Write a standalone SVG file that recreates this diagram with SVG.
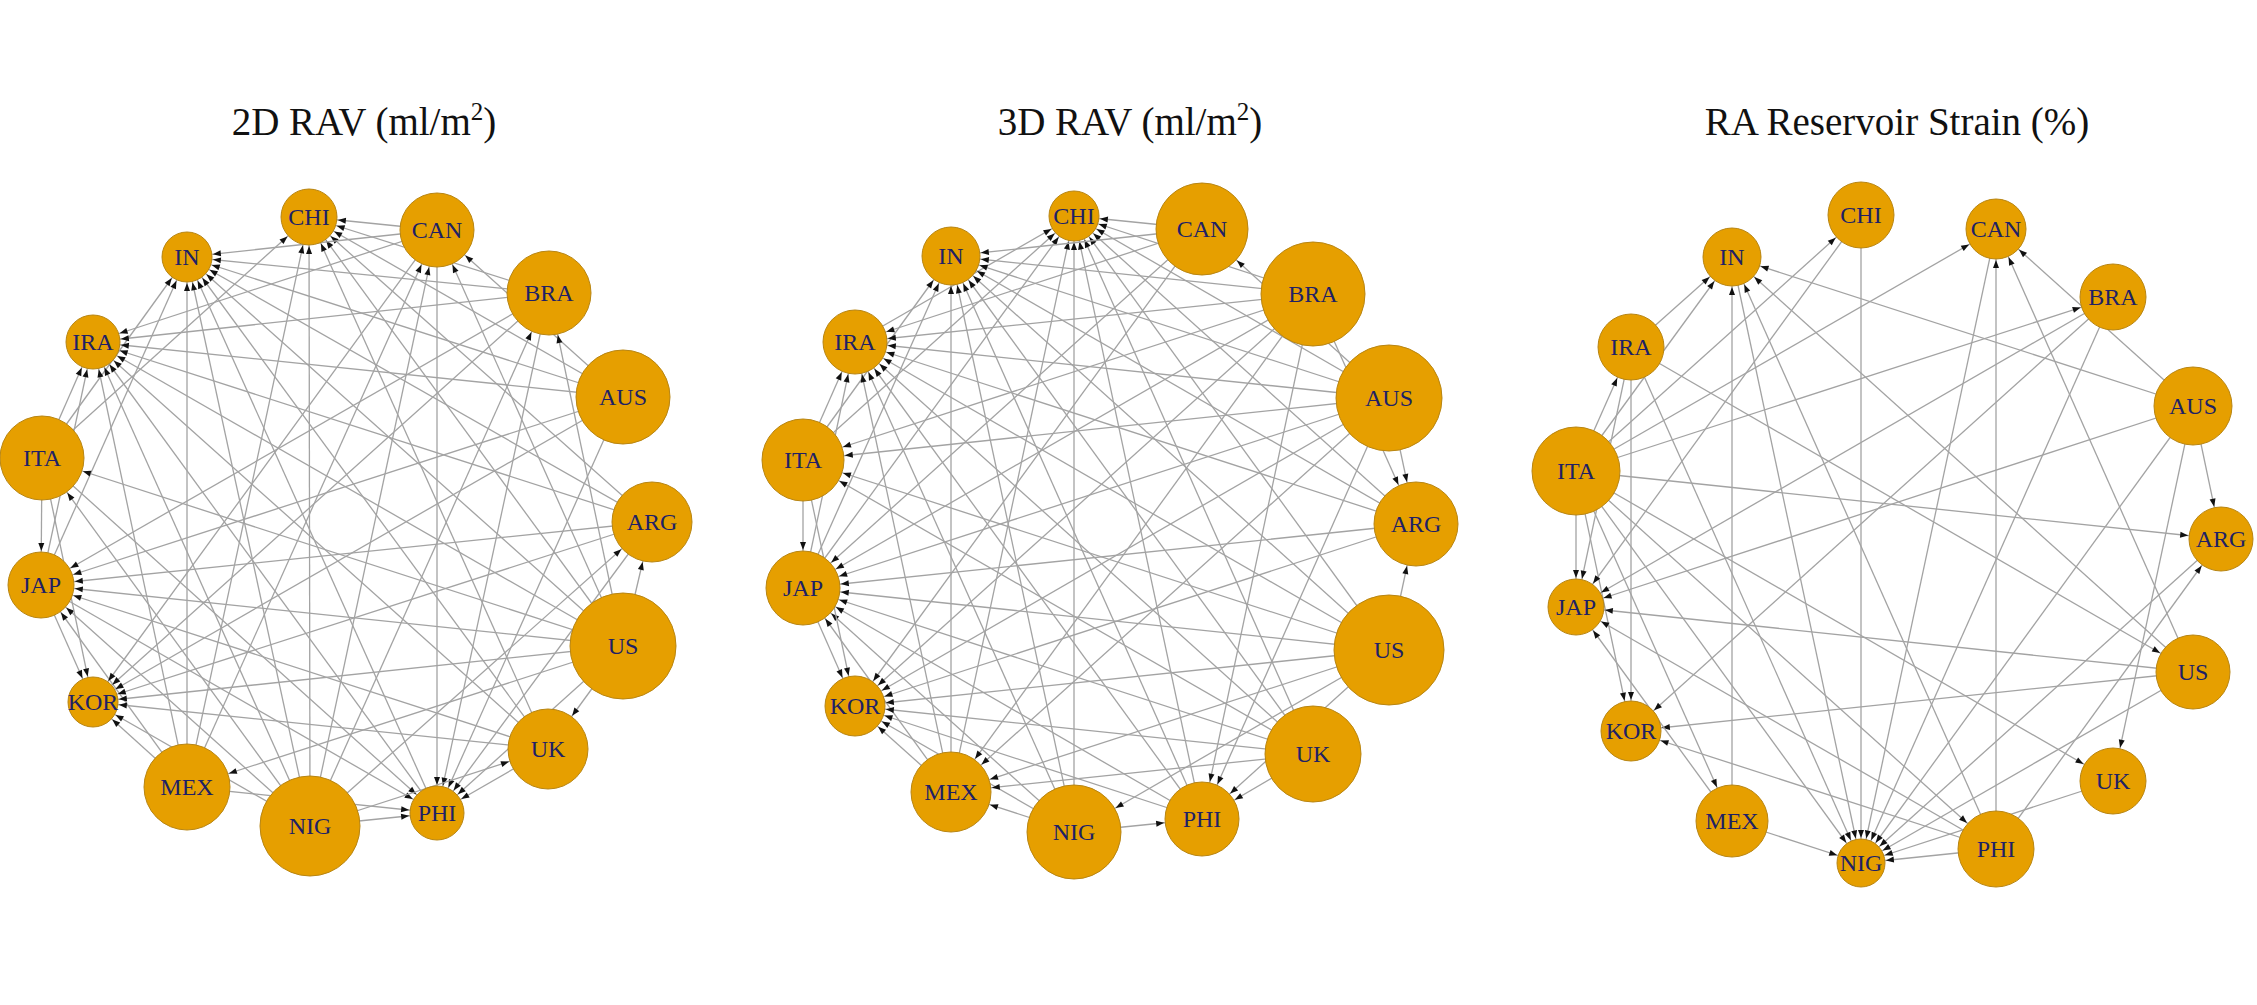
<svg xmlns="http://www.w3.org/2000/svg" width="2257" height="1005" viewBox="0 0 2257 1005">
<defs>
<style>
.bg{fill:#ffffff}
.t{font-family:"Liberation Serif","Times New Roman",serif;font-size:39px;fill:#111111;text-anchor:middle}
.n circle{fill:#E69F00;stroke:#b88512;stroke-width:1}
.n text{font-family:"Liberation Serif","Times New Roman",serif;font-size:24px;fill:#201f66;text-anchor:middle}
.edges line{stroke:#a3a3a3;stroke-width:1.3;fill:none}
.k24{marker-end:url(#r24)}.k25{marker-end:url(#r25)}.k27{marker-end:url(#r27)}.k28{marker-end:url(#r28)}
.k29{marker-end:url(#r29)}.k30{marker-end:url(#r30)}.k32{marker-end:url(#r32)}.k33{marker-end:url(#r33)}
.k36{marker-end:url(#r36)}.k37{marker-end:url(#r37)}.k38{marker-end:url(#r38)}.k40{marker-end:url(#r40)}
.k41{marker-end:url(#r41)}.k42{marker-end:url(#r42)}.k43{marker-end:url(#r43)}.k46{marker-end:url(#r46)}
.k47{marker-end:url(#r47)}
.ah{fill:#111111}
</style>
<marker id="r24" markerUnits="userSpaceOnUse" orient="auto" overflow="visible" markerWidth="1" markerHeight="1"><path class="ah" d="M-25,0 L-33,-3 L-33,3 Z"/></marker>
<marker id="r25" markerUnits="userSpaceOnUse" orient="auto" overflow="visible" markerWidth="1" markerHeight="1"><path class="ah" d="M-26,0 L-34,-3 L-34,3 Z"/></marker>
<marker id="r27" markerUnits="userSpaceOnUse" orient="auto" overflow="visible" markerWidth="1" markerHeight="1"><path class="ah" d="M-28,0 L-36,-3 L-36,3 Z"/></marker>
<marker id="r28" markerUnits="userSpaceOnUse" orient="auto" overflow="visible" markerWidth="1" markerHeight="1"><path class="ah" d="M-29,0 L-37,-3 L-37,3 Z"/></marker>
<marker id="r29" markerUnits="userSpaceOnUse" orient="auto" overflow="visible" markerWidth="1" markerHeight="1"><path class="ah" d="M-30,0 L-38,-3 L-38,3 Z"/></marker>
<marker id="r30" markerUnits="userSpaceOnUse" orient="auto" overflow="visible" markerWidth="1" markerHeight="1"><path class="ah" d="M-31,0 L-39,-3 L-39,3 Z"/></marker>
<marker id="r32" markerUnits="userSpaceOnUse" orient="auto" overflow="visible" markerWidth="1" markerHeight="1"><path class="ah" d="M-33,0 L-41,-3 L-41,3 Z"/></marker>
<marker id="r33" markerUnits="userSpaceOnUse" orient="auto" overflow="visible" markerWidth="1" markerHeight="1"><path class="ah" d="M-34,0 L-42,-3 L-42,3 Z"/></marker>
<marker id="r36" markerUnits="userSpaceOnUse" orient="auto" overflow="visible" markerWidth="1" markerHeight="1"><path class="ah" d="M-37,0 L-45,-3 L-45,3 Z"/></marker>
<marker id="r37" markerUnits="userSpaceOnUse" orient="auto" overflow="visible" markerWidth="1" markerHeight="1"><path class="ah" d="M-38,0 L-46,-3 L-46,3 Z"/></marker>
<marker id="r38" markerUnits="userSpaceOnUse" orient="auto" overflow="visible" markerWidth="1" markerHeight="1"><path class="ah" d="M-39,0 L-47,-3 L-47,3 Z"/></marker>
<marker id="r40" markerUnits="userSpaceOnUse" orient="auto" overflow="visible" markerWidth="1" markerHeight="1"><path class="ah" d="M-41,0 L-49,-3 L-49,3 Z"/></marker>
<marker id="r41" markerUnits="userSpaceOnUse" orient="auto" overflow="visible" markerWidth="1" markerHeight="1"><path class="ah" d="M-42,0 L-50,-3 L-50,3 Z"/></marker>
<marker id="r42" markerUnits="userSpaceOnUse" orient="auto" overflow="visible" markerWidth="1" markerHeight="1"><path class="ah" d="M-43,0 L-51,-3 L-51,3 Z"/></marker>
<marker id="r43" markerUnits="userSpaceOnUse" orient="auto" overflow="visible" markerWidth="1" markerHeight="1"><path class="ah" d="M-44,0 L-52,-3 L-52,3 Z"/></marker>
<marker id="r46" markerUnits="userSpaceOnUse" orient="auto" overflow="visible" markerWidth="1" markerHeight="1"><path class="ah" d="M-47,0 L-55,-3 L-55,3 Z"/></marker>
<marker id="r47" markerUnits="userSpaceOnUse" orient="auto" overflow="visible" markerWidth="1" markerHeight="1"><path class="ah" d="M-48,0 L-56,-3 L-56,3 Z"/></marker>
</defs>
<rect class="bg" x="0" y="0" width="2257" height="1005"/>

<text class="t" x="364" y="135">2D RAV (ml/m<tspan dy="-15" font-size="25">2</tspan><tspan dy="15">)</tspan></text>
<text class="t" x="1130" y="135">3D RAV (ml/m<tspan dy="-15" font-size="25">2</tspan><tspan dy="15">)</tspan></text>
<text class="t" x="1897" y="135">RA Reservoir Strain (%)</text>

<g id="edges-2d" class="edges">
<line class="k28" x1="437" y1="230" x2="309" y2="217"/>
<line class="k28" x1="549" y1="293" x2="309" y2="217"/>
<line class="k28" x1="623" y1="397" x2="309" y2="217"/>
<line class="k28" x1="652" y1="522" x2="309" y2="217"/>
<line class="k28" x1="623" y1="646" x2="309" y2="217"/>
<line class="k28" x1="548" y1="749" x2="309" y2="217"/>
<line class="k28" x1="310" y1="826" x2="309" y2="217"/>
<line class="k28" x1="187" y1="787" x2="309" y2="217"/>
<line class="k28" x1="42" y1="458" x2="309" y2="217"/>
<line class="k25" x1="437" y1="230" x2="187" y2="257"/>
<line class="k25" x1="549" y1="293" x2="187" y2="257"/>
<line class="k25" x1="623" y1="397" x2="187" y2="257"/>
<line class="k25" x1="652" y1="522" x2="187" y2="257"/>
<line class="k25" x1="623" y1="646" x2="187" y2="257"/>
<line class="k25" x1="548" y1="749" x2="187" y2="257"/>
<line class="k25" x1="437" y1="813" x2="187" y2="257"/>
<line class="k25" x1="310" y1="826" x2="187" y2="257"/>
<line class="k25" x1="187" y1="787" x2="187" y2="257"/>
<line class="k25" x1="41" y1="585" x2="187" y2="257"/>
<line class="k25" x1="42" y1="458" x2="187" y2="257"/>
<line class="k27" x1="437" y1="230" x2="93" y2="342"/>
<line class="k27" x1="549" y1="293" x2="93" y2="342"/>
<line class="k27" x1="623" y1="397" x2="93" y2="342"/>
<line class="k27" x1="652" y1="522" x2="93" y2="342"/>
<line class="k27" x1="623" y1="646" x2="93" y2="342"/>
<line class="k27" x1="548" y1="749" x2="93" y2="342"/>
<line class="k27" x1="437" y1="813" x2="93" y2="342"/>
<line class="k27" x1="310" y1="826" x2="93" y2="342"/>
<line class="k27" x1="187" y1="787" x2="93" y2="342"/>
<line class="k27" x1="41" y1="585" x2="93" y2="342"/>
<line class="k27" x1="42" y1="458" x2="93" y2="342"/>
<line class="k42" x1="623" y1="646" x2="42" y2="458"/>
<line class="k42" x1="310" y1="826" x2="42" y2="458"/>
<line class="k33" x1="42" y1="458" x2="41" y2="585"/>
<line class="k33" x1="549" y1="293" x2="41" y2="585"/>
<line class="k33" x1="623" y1="397" x2="41" y2="585"/>
<line class="k33" x1="652" y1="522" x2="41" y2="585"/>
<line class="k33" x1="623" y1="646" x2="41" y2="585"/>
<line class="k33" x1="548" y1="749" x2="41" y2="585"/>
<line class="k33" x1="310" y1="826" x2="41" y2="585"/>
<line class="k33" x1="187" y1="787" x2="41" y2="585"/>
<line class="k25" x1="41" y1="585" x2="93" y2="702"/>
<line class="k25" x1="42" y1="458" x2="93" y2="702"/>
<line class="k25" x1="437" y1="230" x2="93" y2="702"/>
<line class="k25" x1="549" y1="293" x2="93" y2="702"/>
<line class="k25" x1="623" y1="397" x2="93" y2="702"/>
<line class="k25" x1="652" y1="522" x2="93" y2="702"/>
<line class="k25" x1="623" y1="646" x2="93" y2="702"/>
<line class="k25" x1="548" y1="749" x2="93" y2="702"/>
<line class="k25" x1="310" y1="826" x2="93" y2="702"/>
<line class="k25" x1="187" y1="787" x2="93" y2="702"/>
<line class="k27" x1="437" y1="230" x2="437" y2="813"/>
<line class="k27" x1="549" y1="293" x2="437" y2="813"/>
<line class="k27" x1="623" y1="397" x2="437" y2="813"/>
<line class="k27" x1="652" y1="522" x2="437" y2="813"/>
<line class="k27" x1="623" y1="646" x2="437" y2="813"/>
<line class="k27" x1="548" y1="749" x2="437" y2="813"/>
<line class="k27" x1="42" y1="458" x2="437" y2="813"/>
<line class="k27" x1="41" y1="585" x2="437" y2="813"/>
<line class="k27" x1="187" y1="787" x2="437" y2="813"/>
<line class="k27" x1="310" y1="826" x2="437" y2="813"/>
<line class="k37" x1="623" y1="397" x2="437" y2="230"/>
<line class="k37" x1="623" y1="646" x2="437" y2="230"/>
<line class="k37" x1="310" y1="826" x2="437" y2="230"/>
<line class="k37" x1="187" y1="787" x2="437" y2="230"/>
<line class="k42" x1="623" y1="646" x2="549" y2="293"/>
<line class="k42" x1="310" y1="826" x2="549" y2="293"/>
<line class="k40" x1="623" y1="646" x2="652" y2="522"/>
<line class="k40" x1="310" y1="826" x2="652" y2="522"/>
<line class="k40" x1="623" y1="646" x2="548" y2="749"/>
<line class="k40" x1="310" y1="826" x2="548" y2="749"/>
<line class="k43" x1="623" y1="646" x2="187" y2="787"/>
</g>

<g id="edges-3d" class="edges">
<line class="k25" x1="1202" y1="229" x2="1074" y2="216"/>
<line class="k25" x1="1313" y1="294" x2="1074" y2="216"/>
<line class="k25" x1="1389" y1="398" x2="1074" y2="216"/>
<line class="k25" x1="1416" y1="524" x2="1074" y2="216"/>
<line class="k25" x1="1389" y1="650" x2="1074" y2="216"/>
<line class="k25" x1="1313" y1="754" x2="1074" y2="216"/>
<line class="k25" x1="1202" y1="819" x2="1074" y2="216"/>
<line class="k25" x1="1074" y1="832" x2="1074" y2="216"/>
<line class="k25" x1="951" y1="792" x2="1074" y2="216"/>
<line class="k25" x1="803" y1="588" x2="1074" y2="216"/>
<line class="k25" x1="803" y1="460" x2="1074" y2="216"/>
<line class="k25" x1="855" y1="342" x2="1074" y2="216"/>
<line class="k29" x1="1202" y1="229" x2="951" y2="256"/>
<line class="k29" x1="1313" y1="294" x2="951" y2="256"/>
<line class="k29" x1="1389" y1="398" x2="951" y2="256"/>
<line class="k29" x1="1416" y1="524" x2="951" y2="256"/>
<line class="k29" x1="1389" y1="650" x2="951" y2="256"/>
<line class="k29" x1="1313" y1="754" x2="951" y2="256"/>
<line class="k29" x1="1202" y1="819" x2="951" y2="256"/>
<line class="k29" x1="1074" y1="832" x2="951" y2="256"/>
<line class="k29" x1="951" y1="792" x2="951" y2="256"/>
<line class="k29" x1="803" y1="588" x2="951" y2="256"/>
<line class="k29" x1="803" y1="460" x2="951" y2="256"/>
<line class="k32" x1="1202" y1="229" x2="855" y2="342"/>
<line class="k32" x1="1313" y1="294" x2="855" y2="342"/>
<line class="k32" x1="1389" y1="398" x2="855" y2="342"/>
<line class="k32" x1="1416" y1="524" x2="855" y2="342"/>
<line class="k32" x1="1389" y1="650" x2="855" y2="342"/>
<line class="k32" x1="1313" y1="754" x2="855" y2="342"/>
<line class="k32" x1="1202" y1="819" x2="855" y2="342"/>
<line class="k32" x1="1074" y1="832" x2="855" y2="342"/>
<line class="k32" x1="951" y1="792" x2="855" y2="342"/>
<line class="k32" x1="803" y1="588" x2="855" y2="342"/>
<line class="k32" x1="803" y1="460" x2="855" y2="342"/>
<line class="k41" x1="1313" y1="294" x2="803" y2="460"/>
<line class="k41" x1="1389" y1="398" x2="803" y2="460"/>
<line class="k41" x1="1389" y1="650" x2="803" y2="460"/>
<line class="k41" x1="1313" y1="754" x2="803" y2="460"/>
<line class="k37" x1="1202" y1="229" x2="803" y2="588"/>
<line class="k37" x1="1313" y1="294" x2="803" y2="588"/>
<line class="k37" x1="1389" y1="398" x2="803" y2="588"/>
<line class="k37" x1="1416" y1="524" x2="803" y2="588"/>
<line class="k37" x1="1389" y1="650" x2="803" y2="588"/>
<line class="k37" x1="1313" y1="754" x2="803" y2="588"/>
<line class="k37" x1="1202" y1="819" x2="803" y2="588"/>
<line class="k37" x1="1074" y1="832" x2="803" y2="588"/>
<line class="k37" x1="951" y1="792" x2="803" y2="588"/>
<line class="k37" x1="803" y1="460" x2="803" y2="588"/>
<line class="k30" x1="1202" y1="229" x2="855" y2="706"/>
<line class="k30" x1="1313" y1="294" x2="855" y2="706"/>
<line class="k30" x1="1389" y1="398" x2="855" y2="706"/>
<line class="k30" x1="1416" y1="524" x2="855" y2="706"/>
<line class="k30" x1="1389" y1="650" x2="855" y2="706"/>
<line class="k30" x1="1313" y1="754" x2="855" y2="706"/>
<line class="k30" x1="1202" y1="819" x2="855" y2="706"/>
<line class="k30" x1="1074" y1="832" x2="855" y2="706"/>
<line class="k30" x1="951" y1="792" x2="855" y2="706"/>
<line class="k30" x1="803" y1="588" x2="855" y2="706"/>
<line class="k30" x1="803" y1="460" x2="855" y2="706"/>
<line class="k40" x1="1313" y1="294" x2="951" y2="792"/>
<line class="k40" x1="1389" y1="398" x2="951" y2="792"/>
<line class="k40" x1="1389" y1="650" x2="951" y2="792"/>
<line class="k40" x1="1313" y1="754" x2="951" y2="792"/>
<line class="k40" x1="1074" y1="832" x2="951" y2="792"/>
<line class="k47" x1="1389" y1="650" x2="1074" y2="832"/>
<line class="k37" x1="1313" y1="294" x2="1202" y2="819"/>
<line class="k37" x1="1389" y1="398" x2="1202" y2="819"/>
<line class="k37" x1="1389" y1="650" x2="1202" y2="819"/>
<line class="k37" x1="1313" y1="754" x2="1202" y2="819"/>
<line class="k37" x1="1074" y1="832" x2="1202" y2="819"/>
<line class="k42" x1="1389" y1="398" x2="1416" y2="524"/>
<line class="k42" x1="1313" y1="294" x2="1416" y2="524"/>
<line class="k42" x1="1389" y1="650" x2="1416" y2="524"/>
<line class="k46" x1="1389" y1="398" x2="1202" y2="229"/>
</g>

<g id="edges-strain" class="edges">
<line class="k29" x1="1631" y1="347" x2="1732" y2="257"/>
<line class="k29" x1="1576" y1="471" x2="1732" y2="257"/>
<line class="k29" x1="1732" y1="821" x2="1732" y2="257"/>
<line class="k29" x1="1996" y1="849" x2="1732" y2="257"/>
<line class="k29" x1="2193" y1="672" x2="1732" y2="257"/>
<line class="k29" x1="2193" y1="406" x2="1732" y2="257"/>
<line class="k33" x1="1576" y1="471" x2="1861" y2="215"/>
<line class="k30" x1="1576" y1="471" x2="1996" y2="229"/>
<line class="k30" x1="1996" y1="849" x2="1996" y2="229"/>
<line class="k30" x1="2193" y1="672" x2="1996" y2="229"/>
<line class="k30" x1="2193" y1="406" x2="1996" y2="229"/>
<line class="k33" x1="1576" y1="471" x2="2113" y2="297"/>
<line class="k33" x1="1576" y1="471" x2="1631" y2="347"/>
<line class="k32" x1="2193" y1="406" x2="2221" y2="539"/>
<line class="k32" x1="1576" y1="471" x2="2221" y2="539"/>
<line class="k32" x1="1996" y1="849" x2="2221" y2="539"/>
<line class="k37" x1="1631" y1="347" x2="2193" y2="672"/>
<line class="k33" x1="2193" y1="406" x2="2113" y2="781"/>
<line class="k33" x1="1576" y1="471" x2="2113" y2="781"/>
<line class="k30" x1="1576" y1="471" x2="1631" y2="731"/>
<line class="k30" x1="1631" y1="347" x2="1631" y2="731"/>
<line class="k30" x1="2113" y1="297" x2="1631" y2="731"/>
<line class="k30" x1="2193" y1="672" x2="1631" y2="731"/>
<line class="k30" x1="1996" y1="849" x2="1631" y2="731"/>
<line class="k36" x1="1576" y1="471" x2="1732" y2="821"/>
<line class="k28" x1="1576" y1="471" x2="1576" y2="607"/>
<line class="k28" x1="1631" y1="347" x2="1576" y2="607"/>
<line class="k28" x1="1861" y1="215" x2="1576" y2="607"/>
<line class="k28" x1="2113" y1="297" x2="1576" y2="607"/>
<line class="k28" x1="2193" y1="406" x2="1576" y2="607"/>
<line class="k28" x1="2193" y1="672" x2="1576" y2="607"/>
<line class="k28" x1="1996" y1="849" x2="1576" y2="607"/>
<line class="k28" x1="1732" y1="821" x2="1576" y2="607"/>
<line class="k38" x1="1576" y1="471" x2="1996" y2="849"/>
<line class="k24" x1="1732" y1="821" x2="1861" y2="863"/>
<line class="k24" x1="1576" y1="471" x2="1861" y2="863"/>
<line class="k24" x1="1631" y1="347" x2="1861" y2="863"/>
<line class="k24" x1="1732" y1="257" x2="1861" y2="863"/>
<line class="k24" x1="1861" y1="215" x2="1861" y2="863"/>
<line class="k24" x1="1996" y1="229" x2="1861" y2="863"/>
<line class="k24" x1="2113" y1="297" x2="1861" y2="863"/>
<line class="k24" x1="2193" y1="406" x2="1861" y2="863"/>
<line class="k24" x1="2221" y1="539" x2="1861" y2="863"/>
<line class="k24" x1="2193" y1="672" x2="1861" y2="863"/>
<line class="k24" x1="2113" y1="781" x2="1861" y2="863"/>
<line class="k24" x1="1996" y1="849" x2="1861" y2="863"/>
</g>

<g id="nodes-2d">
<g id="p1-CHI" class="n"><circle cx="309" cy="217" r="28"/><text x="309" y="225">CHI</text></g>
<g id="p1-CAN" class="n"><circle cx="437" cy="230" r="37"/><text x="437" y="238">CAN</text></g>
<g id="p1-IN" class="n"><circle cx="187" cy="257" r="25"/><text x="187" y="265">IN</text></g>
<g id="p1-BRA" class="n"><circle cx="549" cy="293" r="42"/><text x="549" y="301">BRA</text></g>
<g id="p1-IRA" class="n"><circle cx="93" cy="342" r="27"/><text x="93" y="350">IRA</text></g>
<g id="p1-AUS" class="n"><circle cx="623" cy="397" r="47"/><text x="623" y="405">AUS</text></g>
<g id="p1-ITA" class="n"><circle cx="42" cy="458" r="42"/><text x="42" y="466">ITA</text></g>
<g id="p1-ARG" class="n"><circle cx="652" cy="522" r="40"/><text x="652" y="530">ARG</text></g>
<g id="p1-JAP" class="n"><circle cx="41" cy="585" r="33"/><text x="41" y="593">JAP</text></g>
<g id="p1-US" class="n"><circle cx="623" cy="646" r="53"/><text x="623" y="654">US</text></g>
<g id="p1-KOR" class="n"><circle cx="93" cy="702" r="25"/><text x="93" y="710">KOR</text></g>
<g id="p1-UK" class="n"><circle cx="548" cy="749" r="40"/><text x="548" y="757">UK</text></g>
<g id="p1-MEX" class="n"><circle cx="187" cy="787" r="43"/><text x="187" y="795">MEX</text></g>
<g id="p1-NIG" class="n"><circle cx="310" cy="826" r="50"/><text x="310" y="834">NIG</text></g>
<g id="p1-PHI" class="n"><circle cx="437" cy="813" r="27"/><text x="437" y="821">PHI</text></g>
</g>

<g id="nodes-3d">
<g id="p2-CHI" class="n"><circle cx="1074" cy="216" r="25"/><text x="1074" y="224">CHI</text></g>
<g id="p2-CAN" class="n"><circle cx="1202" cy="229" r="46"/><text x="1202" y="237">CAN</text></g>
<g id="p2-IN" class="n"><circle cx="951" cy="256" r="29"/><text x="951" y="264">IN</text></g>
<g id="p2-BRA" class="n"><circle cx="1313" cy="294" r="52"/><text x="1313" y="302">BRA</text></g>
<g id="p2-IRA" class="n"><circle cx="855" cy="342" r="32"/><text x="855" y="350">IRA</text></g>
<g id="p2-AUS" class="n"><circle cx="1389" cy="398" r="53"/><text x="1389" y="406">AUS</text></g>
<g id="p2-ITA" class="n"><circle cx="803" cy="460" r="41"/><text x="803" y="468">ITA</text></g>
<g id="p2-ARG" class="n"><circle cx="1416" cy="524" r="42"/><text x="1416" y="532">ARG</text></g>
<g id="p2-JAP" class="n"><circle cx="803" cy="588" r="37"/><text x="803" y="596">JAP</text></g>
<g id="p2-US" class="n"><circle cx="1389" cy="650" r="55"/><text x="1389" y="658">US</text></g>
<g id="p2-KOR" class="n"><circle cx="855" cy="706" r="30"/><text x="855" y="714">KOR</text></g>
<g id="p2-UK" class="n"><circle cx="1313" cy="754" r="48"/><text x="1313" y="762">UK</text></g>
<g id="p2-MEX" class="n"><circle cx="951" cy="792" r="40"/><text x="951" y="800">MEX</text></g>
<g id="p2-NIG" class="n"><circle cx="1074" cy="832" r="47"/><text x="1074" y="840">NIG</text></g>
<g id="p2-PHI" class="n"><circle cx="1202" cy="819" r="37"/><text x="1202" y="827">PHI</text></g>
</g>

<g id="nodes-strain">
<g id="p3-CHI" class="n"><circle cx="1861" cy="215" r="33"/><text x="1861" y="223">CHI</text></g>
<g id="p3-CAN" class="n"><circle cx="1996" cy="229" r="30"/><text x="1996" y="237">CAN</text></g>
<g id="p3-IN" class="n"><circle cx="1732" cy="257" r="29"/><text x="1732" y="265">IN</text></g>
<g id="p3-BRA" class="n"><circle cx="2113" cy="297" r="33"/><text x="2113" y="305">BRA</text></g>
<g id="p3-IRA" class="n"><circle cx="1631" cy="347" r="33"/><text x="1631" y="355">IRA</text></g>
<g id="p3-AUS" class="n"><circle cx="2193" cy="406" r="39"/><text x="2193" y="414">AUS</text></g>
<g id="p3-ITA" class="n"><circle cx="1576" cy="471" r="44"/><text x="1576" y="479">ITA</text></g>
<g id="p3-ARG" class="n"><circle cx="2221" cy="539" r="32"/><text x="2221" y="547">ARG</text></g>
<g id="p3-JAP" class="n"><circle cx="1576" cy="607" r="28"/><text x="1576" y="615">JAP</text></g>
<g id="p3-US" class="n"><circle cx="2193" cy="672" r="37"/><text x="2193" y="680">US</text></g>
<g id="p3-KOR" class="n"><circle cx="1631" cy="731" r="30"/><text x="1631" y="739">KOR</text></g>
<g id="p3-UK" class="n"><circle cx="2113" cy="781" r="33"/><text x="2113" y="789">UK</text></g>
<g id="p3-MEX" class="n"><circle cx="1732" cy="821" r="36"/><text x="1732" y="829">MEX</text></g>
<g id="p3-NIG" class="n"><circle cx="1861" cy="863" r="24"/><text x="1861" y="871">NIG</text></g>
<g id="p3-PHI" class="n"><circle cx="1996" cy="849" r="38"/><text x="1996" y="857">PHI</text></g>
</g>
</svg>
